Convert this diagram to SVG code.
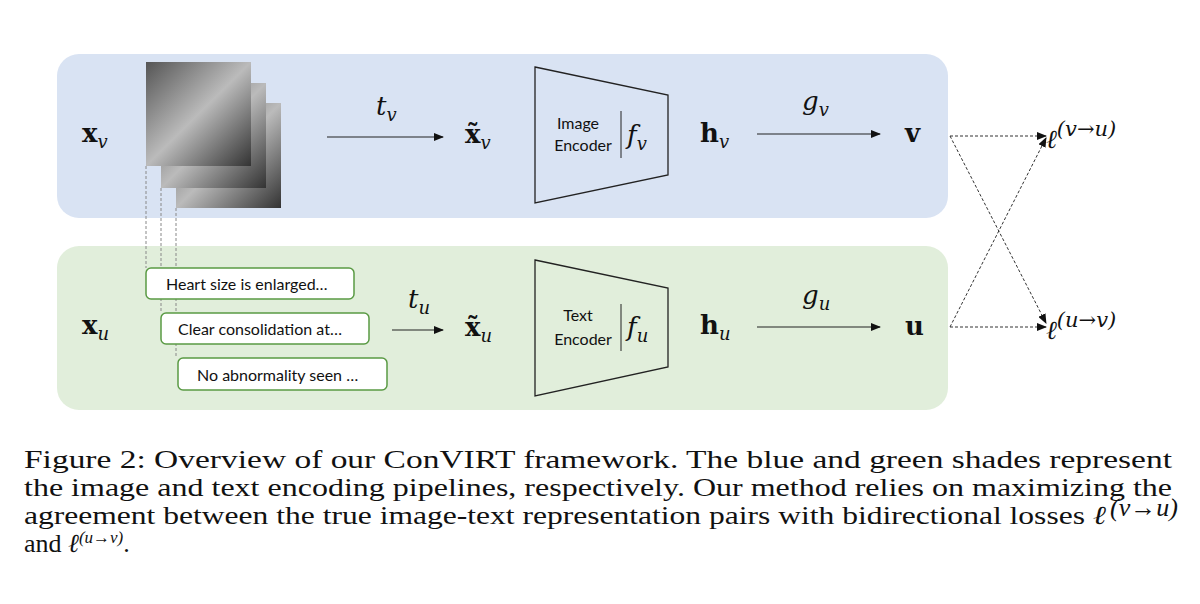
<svg xmlns="http://www.w3.org/2000/svg" width="1200" height="604" viewBox="0 0 1200 604">
<defs>
<style>
.m{font-family:"DejaVu Serif","Liberation Serif",serif;font-size:26px;fill:#111;font-style:italic;font-weight:normal}
.mb{font-family:"DejaVu Serif","Liberation Serif",serif;font-weight:bold;font-size:26px;fill:#111}
.sub{font-family:"DejaVu Serif","Liberation Serif",serif;font-style:italic;font-weight:normal;font-size:18px}
.s{font-family:"Lato","Open Sans",sans-serif;font-size:16px;fill:#111}
.enc{font-family:"Lato","Open Sans",sans-serif;font-size:16px;fill:#111;text-anchor:middle}
.cap{font-family:"Liberation Serif",serif;font-size:26px;fill:#111}
.box{fill:#fff;stroke:#5a9a44;stroke-width:1.5}
.ln{stroke:#222;stroke-width:1.2;fill:none}
.dl{stroke:#333;stroke-width:1;stroke-dasharray:3,2;fill:none}
.vd{stroke:#888;stroke-width:1;stroke-dasharray:3,2;fill:none}
</style>
<marker id="a" markerWidth="10" markerHeight="8" refX="9" refY="4" orient="auto" markerUnits="userSpaceOnUse"><path d="M0,0 L10,4 L0,8 z" fill="#111"/></marker>
<linearGradient id="xr" x1="0" y1="0" x2="1" y2="1"><stop offset="0" stop-color="#555"/><stop offset="0.5" stop-color="#bbb"/><stop offset="1" stop-color="#333"/></linearGradient>
</defs>
<rect x="57" y="54" width="891" height="164" rx="22" fill="#d9e3f3"/>
<rect x="57" y="246" width="891" height="164" rx="22" fill="#e1eedb"/>
<g id="images">
<rect x="176" y="103" width="105" height="105" fill="url(#xr)"/>
<rect x="161" y="83" width="105" height="105" fill="url(#xr)"/>
<rect x="146" y="62" width="105" height="104" fill="url(#xr)"/>
</g>
<g id="connectors">
<line class="vd" x1="146" y1="166" x2="146" y2="268"/>
<line class="vd" x1="161" y1="188" x2="161" y2="313"/>
<line class="vd" x1="176" y1="208" x2="176" y2="358"/>
<line class="ln" x1="327" y1="137" x2="443" y2="137" marker-end="url(#a)"/>
<line class="ln" x1="392" y1="330" x2="443" y2="330" marker-end="url(#a)"/>
<line class="ln" x1="757" y1="134" x2="880" y2="134" marker-end="url(#a)"/>
<line class="ln" x1="757" y1="327" x2="880" y2="327" marker-end="url(#a)"/>
<line class="dl" x1="950" y1="136" x2="1046" y2="136" marker-end="url(#a)"/>
<line class="dl" x1="950" y1="136" x2="1046" y2="323" marker-end="url(#a)"/>
<line class="dl" x1="950" y1="327" x2="1046" y2="327" marker-end="url(#a)"/>
<line class="dl" x1="950" y1="327" x2="1046" y2="138" marker-end="url(#a)"/>
</g>
<g id="reports">
<rect class="box" x="146" y="268" width="208" height="31" rx="5"/><text class="s" x="166" y="290">Heart size is enlarged…</text>
<rect class="box" x="161" y="313" width="208" height="31" rx="5"/><text class="s" x="178" y="335">Clear consolidation at…</text>
<rect class="box" x="178" y="358" width="209" height="32" rx="5"/><text class="s" x="197" y="381">No abnormality seen …</text>
</g>
<g id="encoders">
<path d="M535,67 L668,95 L668,175 L535,203 z" fill="none" stroke="#222" stroke-width="1.3"/>
<text class="enc" x="578" y="129">Image</text><text class="enc" x="583" y="151">Encoder</text>
<line x1="621" y1="111" x2="621" y2="158" stroke="#222" stroke-width="1"/>
<path d="M535,260 L668,288 L668,367 L535,396 z" fill="none" stroke="#222" stroke-width="1.3"/>
<text class="enc" x="578" y="321">Text</text><text class="enc" x="583" y="345">Encoder</text>
<line x1="621" y1="304" x2="621" y2="351" stroke="#222" stroke-width="1"/>
</g>
<g id="labels">
<text class="mb" x="82" y="142">x<tspan class="sub" dy="6">v</tspan></text>
<text class="mb" x="82" y="334">x<tspan class="sub" dy="6">u</tspan></text>
<text class="m" x="376" y="115">t<tspan class="sub" dy="6">v</tspan></text>
<text class="m" x="408" y="308">t<tspan class="sub" dy="6">u</tspan></text>
<text class="mb" x="465" y="143">x̃<tspan class="sub" dy="6">v</tspan></text>
<text class="mb" x="465" y="336">x̃<tspan class="sub" dy="6">u</tspan></text>
<text class="m" x="627" y="144" font-size="30">f<tspan class="sub" dy="6">v</tspan></text>
<text class="m" x="627" y="336" font-size="30">f<tspan class="sub" dy="6">u</tspan></text>
<text class="mb" x="700" y="142">h<tspan class="sub" dy="6">v</tspan></text>
<text class="mb" x="700" y="334">h<tspan class="sub" dy="6">u</tspan></text>
<text class="m" x="802" y="110">g<tspan class="sub" dy="6">v</tspan></text>
<text class="m" x="802" y="304">g<tspan class="sub" dy="6">u</tspan></text>
<text class="mb" x="905" y="142">v</text>
<text class="mb" x="905" y="335">u</text>
<text class="m" x="1046" y="148" font-size="28">ℓ<tspan font-size="21" dy="-12">(v→u)</tspan></text>
<text class="m" x="1046" y="339" font-size="28">ℓ<tspan font-size="21" dy="-12">(u→v)</tspan></text>
</g>
<g id="caption">
<text class="cap" x="24" y="468" textLength="1148" lengthAdjust="spacingAndGlyphs">Figure 2:  Overview of our ConVIRT framework.  The blue and green shades represent</text>
<text class="cap" x="24" y="496" textLength="1148" lengthAdjust="spacingAndGlyphs">the image and text encoding pipelines, respectively. Our method relies on maximizing the</text>
<text class="cap" x="24" y="524" textLength="1082" lengthAdjust="spacingAndGlyphs">agreement between the true image-text representation pairs with bidirectional losses <tspan font-style="italic">ℓ</tspan></text>
<text class="cap" x="1110" y="516" font-size="16" font-style="italic">(v→u)</text>
<text class="cap" x="24" y="552">and <tspan font-style="italic">ℓ</tspan><tspan font-size="17" font-style="italic" dy="-9">(u→v)</tspan><tspan dy="9">.</tspan></text>
</g>
</svg>
